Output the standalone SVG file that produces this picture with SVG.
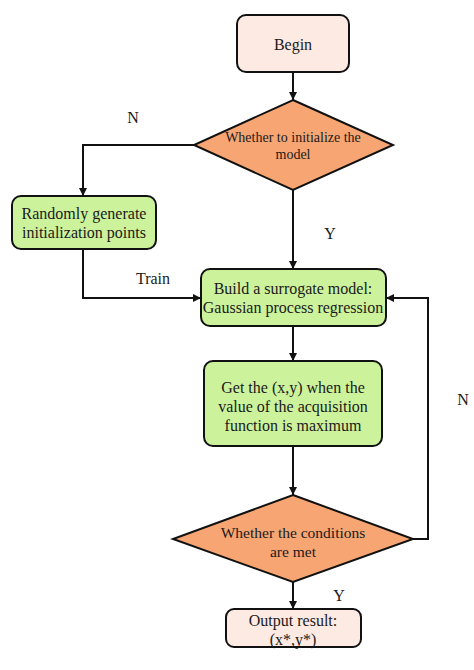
<svg xmlns="http://www.w3.org/2000/svg" width="474" height="670" viewBox="0 0 474 670">
<defs>
<marker id="ah" viewBox="0 0 10 10" refX="10" refY="5" markerWidth="8" markerHeight="8" markerUnits="userSpaceOnUse" orient="auto">
<path d="M0,0 L10,5 L0,10 z" fill="#111"/>
</marker>
</defs>
<style>
.t{font-family:"Liberation Serif","Times New Roman",serif;fill:#1a1a1a;text-anchor:middle;dominant-baseline:central;font-size:16px}
.d{font-size:14px}
.pink{fill:#FDEAE2;stroke:#111;stroke-width:2}
.green{fill:#CDF29C;stroke:#111;stroke-width:2}
.orange{fill:#F7A673;stroke:#111;stroke-width:2}
.c{fill:none;stroke:#111;stroke-width:2;marker-end:url(#ah)}
</style>
<rect width="474" height="670" fill="#fff"/>
<g id="connectors">
<path class="c" d="M293,72 V100"/>
<path class="c" d="M194,145 H83 V196"/>
<path class="c" d="M293,190 V269"/>
<path class="c" d="M83,249 V298 H201"/>
<path class="c" d="M293,326 V361"/>
<path class="c" d="M293,446 V495"/>
<path class="c" d="M413,539 H428 V298 H386"/>
<path class="c" d="M293,582 V609"/>
</g>
<g id="labels">
<text class="t" x="133" y="117">N</text>
<text class="t" x="330" y="233">Y</text>
<text class="t" x="153" y="278">Train</text>
<text class="t" x="463" y="399">N</text>
<text class="t" x="339" y="595">Y</text>
</g>
<g id="begin">
<rect class="pink" x="237" y="15" width="112" height="57" rx="9"/>
<text class="t" x="293" y="44">Begin</text>
</g>
<g id="init-decision">
<polygon class="orange" points="293,100 393,145 293,190 194,145"/>
<text class="t d" x="293" y="137">Whether to initialize the</text>
<text class="t d" x="293" y="154">model</text>
</g>
<g id="random-init">
<rect class="green" x="12" y="196" width="144" height="53" rx="9"/>
<text class="t" x="84" y="213">Randomly generate</text>
<text class="t" x="84" y="232">initialization points</text>
</g>
<g id="surrogate">
<rect class="green" x="201" y="269" width="185" height="57" rx="9"/>
<text class="t" x="293" y="288">Build a surrogate model:</text>
<text class="t" x="293" y="307">Gaussian process regression</text>
</g>
<g id="acquisition">
<rect class="green" x="204" y="361" width="178" height="85" rx="9"/>
<text class="t" x="293" y="387">Get the (x,y) when the</text>
<text class="t" x="293" y="406">value of the acquisition</text>
<text class="t" x="293" y="425">function is maximum</text>
</g>
<g id="condition-decision">
<polygon class="orange" points="293,495 413,539 293,582 173,539"/>
<text class="t" x="293" y="532" style="font-size:15.5px">Whether the conditions</text>
<text class="t" x="293" y="551" style="font-size:15.5px">are met</text>
</g>
<g id="output">
<rect class="pink" x="226" y="609" width="135" height="38" rx="8"/>
<text class="t" x="293" y="620">Output result:</text>
<text class="t" x="293" y="639">(x*,y*)</text>
</g>
</svg>
